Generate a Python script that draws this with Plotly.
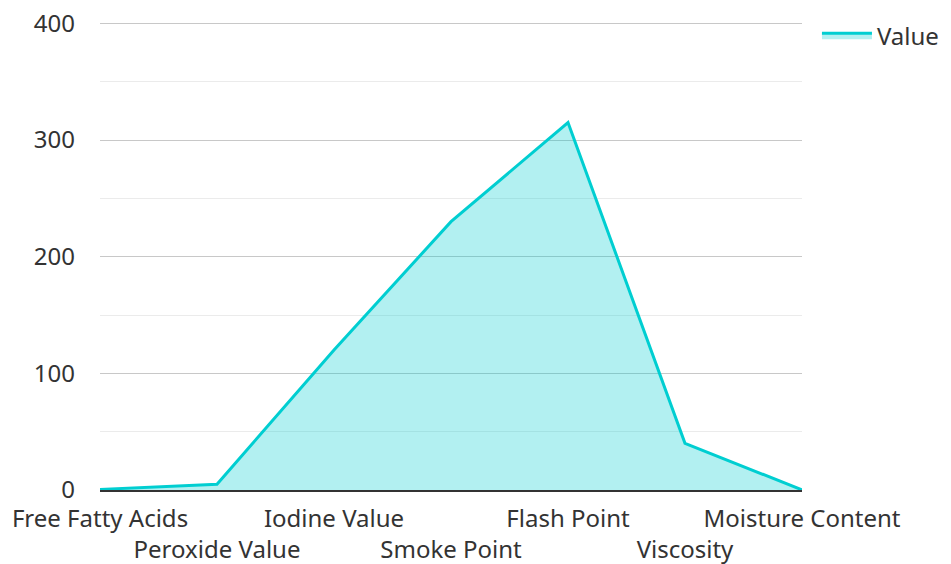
import plotly.graph_objects as go

categories = ["Free Fatty Acids", "Peroxide Value", "Iodine Value", "Smoke Point",
              "Flash Point", "Viscosity", "Moisture Content"]
values = [0.5, 5, 120, 230, 315, 40, 0.1]
series_name = "Value"

ticktext = [c if i % 2 == 0 else "<br>" + c for i, c in enumerate(categories)]

fig = go.Figure()
fig.add_trace(go.Scatter(
    x=list(range(len(categories))), y=values, name=series_name,
    mode="lines", fill="tozeroy",
    line=dict(color="#00CED1", width=3),
    fillcolor="rgba(0,206,209,0.3)",
))

font = dict(family="Noto Sans, Open Sans, sans-serif", size=24, color="#333333")
fig.update_layout(
    width=970, height=556,
    margin=dict(l=92, r=176, t=13, b=74, autoexpand=False),
    paper_bgcolor="white", plot_bgcolor="white",
    font=font,
    showlegend=True,
    legend=dict(x=1.0213, y=1.017, xanchor="left", yanchor="top",
                font=font, itemwidth=50),
    xaxis=dict(
        tickmode="array", tickvals=list(range(len(categories))), ticktext=ticktext,
        range=[0, len(categories) - 1], showgrid=False, zeroline=False,
        showline=True, linecolor="#333333", linewidth=2,
        ticks="outside", ticklen=6, tickcolor="rgba(0,0,0,0)",
        tickfont=font, tickangle=0, automargin=False, ticklabeloverflow="allow",
    ),
    yaxis=dict(
        range=[0, 402], tickmode="array", tickvals=[0, 100, 200, 300, 400],
        showgrid=True, gridcolor="#c8c8c8", gridwidth=1,
        minor=dict(tickvals=[50, 150, 250, 350], showgrid=True, gridcolor="#ebebeb"),
        zeroline=False, showline=False, ticks="",
        ticklabelstandoff=24, tickfont=font, automargin=False,
        ticklabeloverflow="allow",
    ),
)

fig.write_html("out.html")
